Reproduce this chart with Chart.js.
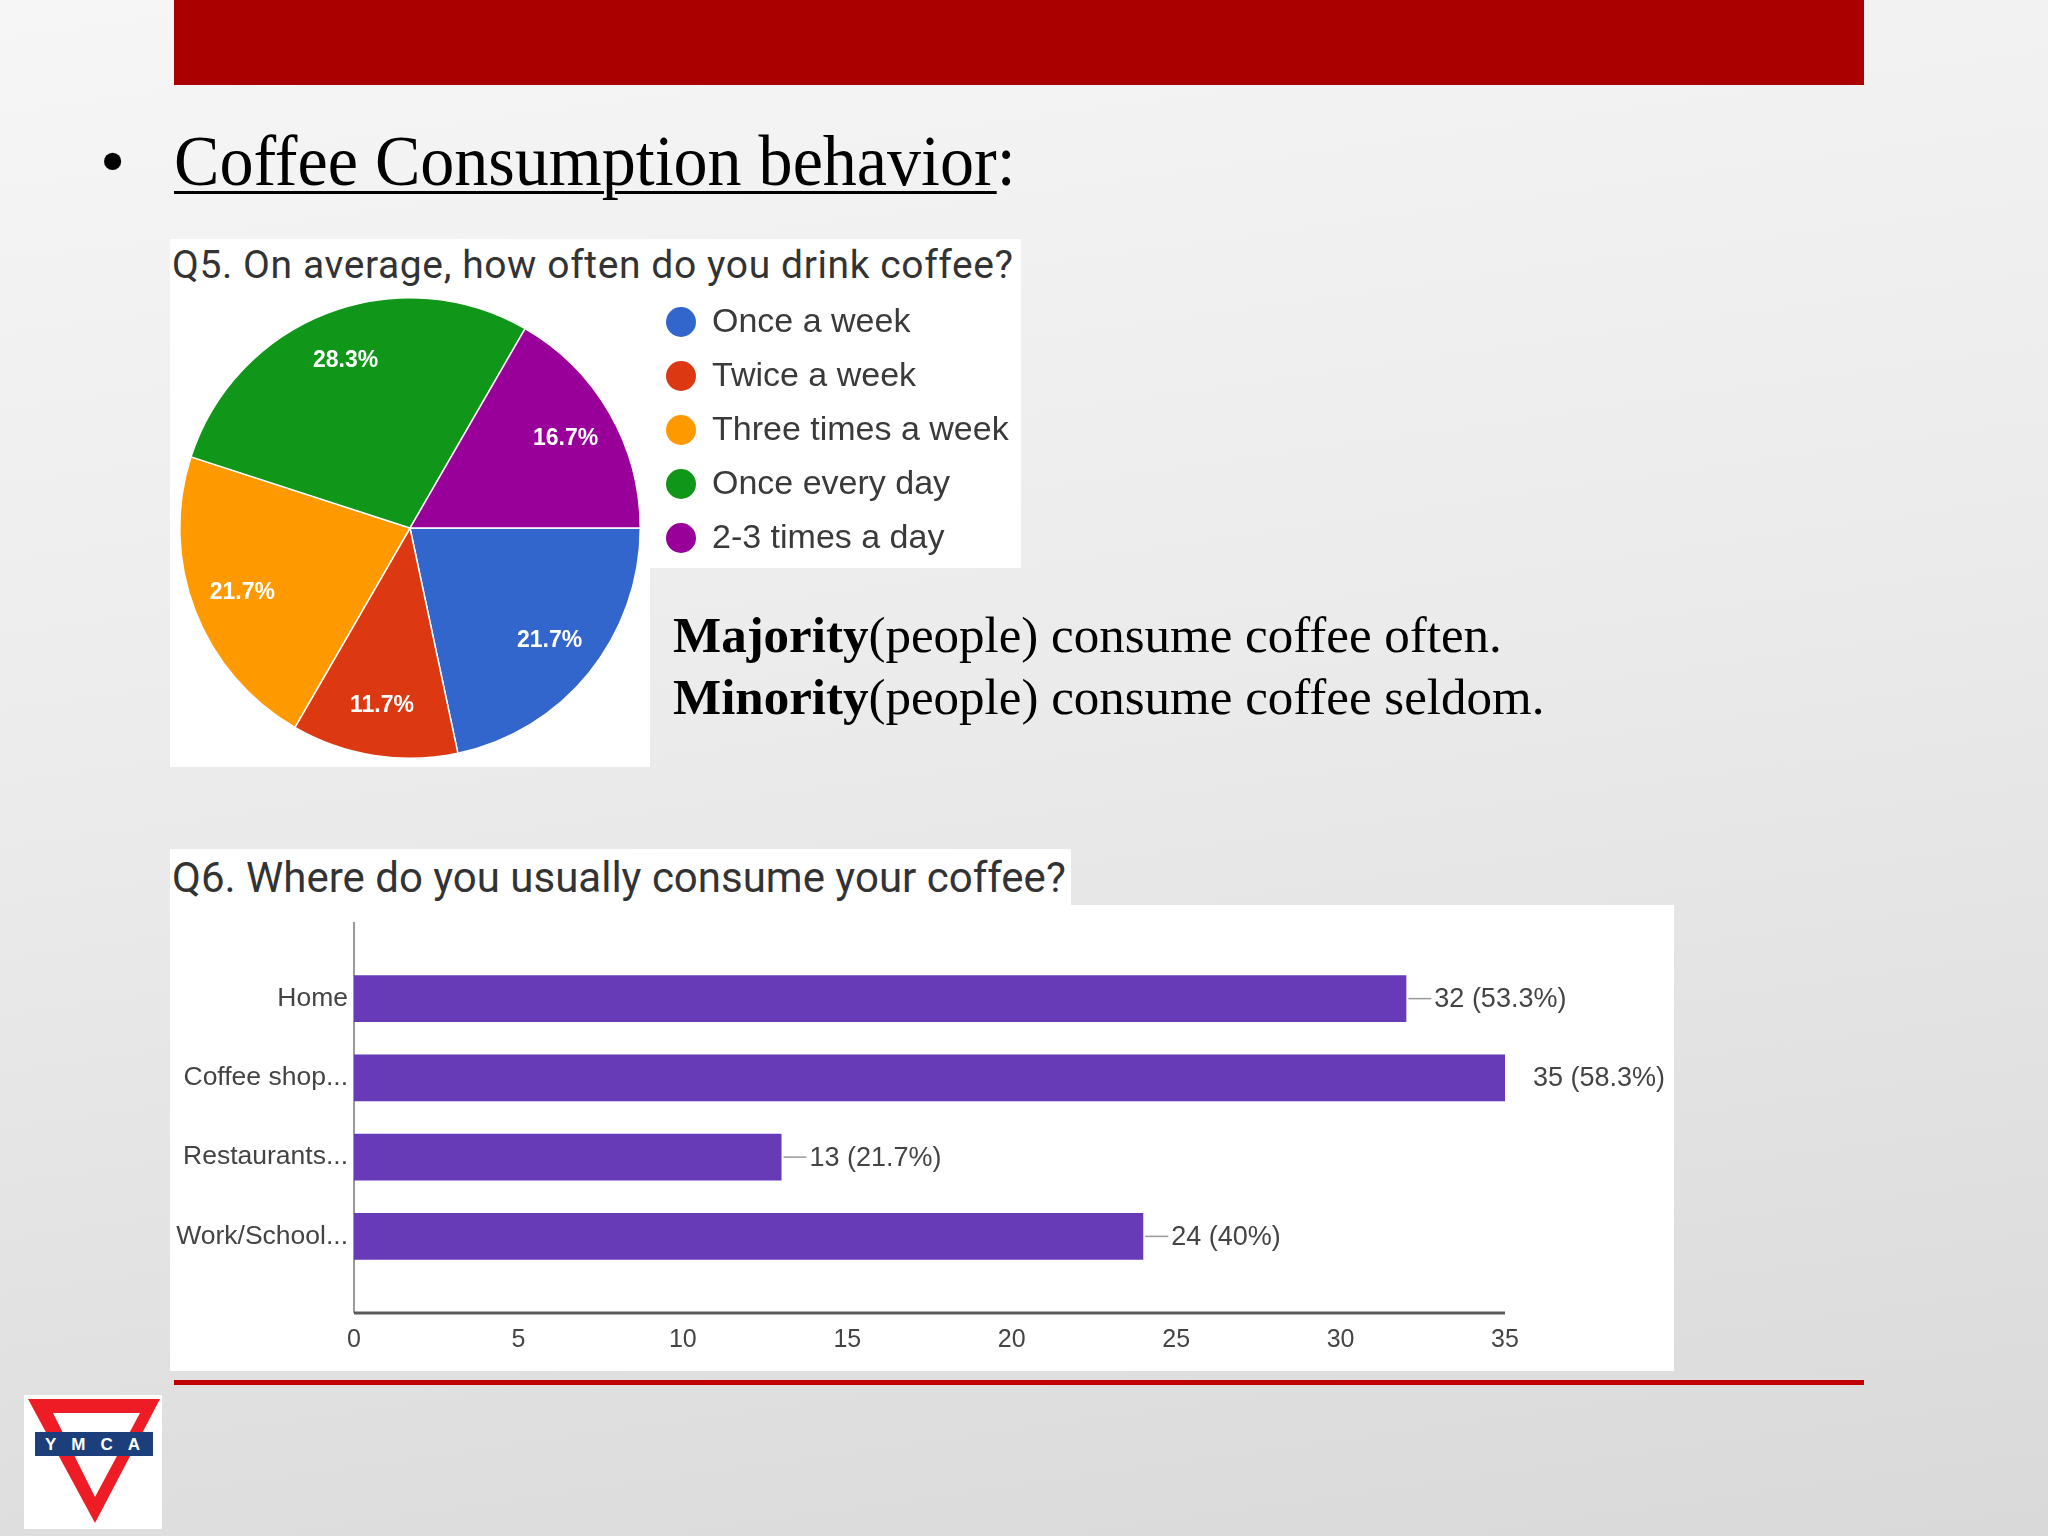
<!DOCTYPE html>
<html>
<head>
<meta charset="utf-8">
<script src="https://cdn.jsdelivr.net/npm/chart.js@4.4.1/dist/chart.umd.min.js"></script>
<style>
  html, body { margin: 0; padding: 0; }
  body {
    width: 2048px; height: 1536px; position: relative; overflow: hidden;
    background: linear-gradient(172deg, #f6f6f6 0%, #ebebeb 45%, #d9d9d9 100%);
    font-family: "Liberation Serif", "Times New Roman", serif;
  }
  .abs { position: absolute; }
  #topbar { left: 174px; top: 0; width: 1690px; height: 85px; background: #ab0000; }
  #bottomline { left: 174px; top: 1380px; width: 1690px; height: 5px; background: #c00000; }
  #bullet { left: 100px; top: 125px; font-size: 72px; line-height: 72px; }
  #heading { left: 174px; top: 125px; font-size: 72px; line-height: 72px; white-space: nowrap;
    transform: scaleX(0.945); transform-origin: left top; }
  #heading u { text-decoration-thickness: 3px; text-underline-offset: 6px; }
  #note { left: 673px; top: 604px; font-size: 51px; line-height: 62px; white-space: nowrap; color: #000; }
  .white { background: #ffffff; }
  .qtitle { font-family: Roboto, "Liberation Sans", sans-serif; color: #333; white-space: nowrap; line-height: 1; }
  #q5 { left: 172px; top: 246px; font-size: 39px; letter-spacing: 0.6px; }
  #q6 { left: 172px; top: 857px; font-size: 42px; }
  canvas { position: absolute; }
</style>
</head>
<body>
<div id="topbar" class="abs"></div>

<div id="bullet" class="abs">•</div>
<div id="heading" class="abs"><u>Coffee Consumption behavior</u>:</div>

<!-- white panels behind the screenshots -->
<div class="abs white" style="left:170px;top:239px;width:851px;height:329px;"></div>
<div class="abs white" style="left:170px;top:239px;width:480px;height:528px;"></div>
<div class="abs white" style="left:170px;top:849px;width:901px;height:56px;"></div>
<div class="abs white" style="left:170px;top:905px;width:1504px;height:466px;"></div>

<div id="q5" class="abs qtitle">Q5. On average, how often do you drink coffee?</div>
<canvas id="pieChart" width="851" height="530" style="left:170px;top:239px;"></canvas>

<div id="note" class="abs"><b>Majority</b>(people) consume coffee often.<br><b>Minority</b>(people) consume coffee seldom.</div>

<div id="q6" class="abs qtitle">Q6. Where do you usually consume your coffee?</div>
<canvas id="barChart" width="1504" height="466" style="left:170px;top:905px;"></canvas>

<div id="bottomline" class="abs"></div>

<!-- YMCA logo -->
<svg class="abs" style="left:24px;top:1395px;" width="138" height="134" viewBox="0 0 138 134">
  <rect x="0" y="0" width="138" height="134" fill="#ffffff"/>
  <polygon points="4,4 136,4 71,128" fill="#ee1c24"/>
  <polygon points="29,18 116,18 71,102" fill="#ffffff"/>
  <rect x="11" y="37" width="118" height="24" fill="#1c3f7c"/>
  <text x="76" y="55" text-anchor="middle" fill="#ffffff" font-family="Liberation Sans" font-weight="bold" font-size="17" letter-spacing="15">YMCA</text>
</svg>

<script>
// Q5 data
const freqLabels = ["Once a week", "Twice a week", "Three times a week", "Once every day", "2-3 times a day"];
const freqCounts = [13, 7, 13, 17, 10];
const freqColors = ["#3366cc", "#dc3912", "#ff9900", "#109618", "#990099"];

// Q6 data
const placeLabels = ["Home", "Coffee shop...", "Restaurants...", "Work/School..."];
const placeCounts = [32, 35, 13, 24];
const xTicks = [0, 5, 10, 15, 20, 25, 30, 35];

const respondents = 60;
const sans = "'Liberation Sans', Arial, sans-serif";

function pct(v) {
  return (Math.round(v / respondents * 1000) / 10) + "%";
}

// percentage text inside each slice
const sliceLabels = {
  id: "sliceLabels",
  afterDatasetsDraw(chart) {
    const ctx = chart.ctx;
    const arcs = chart.getDatasetMeta(0).data;
    ctx.save();
    ctx.font = "bold 23px " + sans;
    ctx.fillStyle = "#ffffff";
    ctx.textAlign = "center";
    ctx.textBaseline = "middle";
    arcs.forEach((arc, i) => {
      const p = arc.getProps(["x", "y", "startAngle", "endAngle", "outerRadius"]);
      const mid = (p.startAngle + p.endAngle) / 2;
      const r = p.outerRadius * 0.78;
      ctx.fillText(pct(chart.data.datasets[0].data[i]), p.x + Math.cos(mid) * r, p.y + Math.sin(mid) * r);
    });
    ctx.restore();
  }
};

// google forms style legend on the right
const dotLegend = {
  id: "dotLegend",
  afterDraw(chart) {
    const ctx = chart.ctx;
    const colors = chart.data.datasets[0].backgroundColor;
    ctx.save();
    ctx.font = "34px " + sans;
    ctx.textBaseline = "middle";
    chart.data.labels.forEach((label, i) => {
      const y = 83 + i * 54;
      ctx.fillStyle = colors[i];
      ctx.beginPath();
      ctx.arc(511, y, 15, 0, Math.PI * 2);
      ctx.fill();
      ctx.fillStyle = "#3a3a3a";
      ctx.fillText(label, 542, y + 1);
    });
    ctx.restore();
  }
};

new Chart(document.getElementById("pieChart"), {
  type: "pie",
  data: {
    labels: freqLabels,
    datasets: [{
      data: freqCounts,
      backgroundColor: freqColors,
      borderColor: "#ffffff",
      borderWidth: 1.5
    }]
  },
  options: {
    responsive: false,
    animation: false,
    rotation: 90,
    layout: { padding: { left: 9, top: 58, right: 380, bottom: 10 } },
    plugins: { legend: { display: false }, tooltip: { enabled: false } }
  },
  plugins: [sliceLabels, dotLegend]
});

// axis lines that run past the bars, like the google chart
const axisFrame = {
  id: "axisFrame",
  beforeDatasetsDraw(chart) {
    const ctx = chart.ctx;
    const a = chart.chartArea;
    const ext = 37;
    const xEnd = chart.scales.x.getPixelForValue(xTicks[xTicks.length - 1]);
    ctx.save();
    ctx.strokeStyle = "#9a9a9a";
    ctx.lineWidth = 2;
    ctx.beginPath();
    ctx.moveTo(a.left, a.top - ext);
    ctx.lineTo(a.left, a.bottom + ext);
    ctx.stroke();
    ctx.strokeStyle = "#5a5a5a";
    ctx.lineWidth = 3;
    ctx.beginPath();
    ctx.moveTo(a.left, a.bottom + ext);
    ctx.lineTo(xEnd, a.bottom + ext);
    ctx.stroke();
    ctx.restore();
  }
};

// "32 (53.3%)" labels at the bar ends
const valueLabels = {
  id: "valueLabels",
  afterDatasetsDraw(chart) {
    const ctx = chart.ctx;
    const bars = chart.getDatasetMeta(0).data;
    const axisMax = xTicks[xTicks.length - 1];
    ctx.save();
    ctx.font = "27px " + sans;
    ctx.textBaseline = "middle";
    bars.forEach((bar, i) => {
      const v = chart.data.datasets[0].data[i];
      if (v < axisMax) {
        ctx.strokeStyle = "#9a9a9a";
        ctx.lineWidth = 1.5;
        ctx.beginPath();
        ctx.moveTo(bar.x + 2, bar.y);
        ctx.lineTo(bar.x + 25, bar.y);
        ctx.stroke();
      }
      ctx.fillStyle = "#444444";
      ctx.fillText(v + " (" + pct(v) + ")", bar.x + 28, bar.y + 1);
    });
    ctx.restore();
  }
};

new Chart(document.getElementById("barChart"), {
  type: "bar",
  data: {
    labels: placeLabels,
    datasets: [{
      data: placeCounts,
      backgroundColor: "#673ab7",
      categoryPercentage: 1,
      barPercentage: 0.593
    }]
  },
  options: {
    indexAxis: "y",
    responsive: false,
    animation: false,
    layout: { padding: { top: 54, right: 169, left: 0, bottom: 0 } },
    scales: {
      x: {
        min: xTicks[0],
        max: xTicks[xTicks.length - 1],
        afterBuildTicks: (s) => { s.ticks = xTicks.map(v => ({ value: v })); },
        afterFit: (s) => { s.height = 95; },
        grid: { display: false, drawTicks: false },
        border: { display: false },
        ticks: { padding: 49, color: "#444444", font: { size: 25, family: sans } }
      },
      y: {
        afterFit: (s) => { s.width = 184; },
        grid: { display: false, drawTicks: false },
        border: { display: false },
        ticks: { padding: 6, color: "#444444", font: { size: 26.5, family: sans } }
      }
    },
    plugins: { legend: { display: false }, tooltip: { enabled: false } }
  },
  plugins: [axisFrame, valueLabels]
});
</script>
</body>
</html>
